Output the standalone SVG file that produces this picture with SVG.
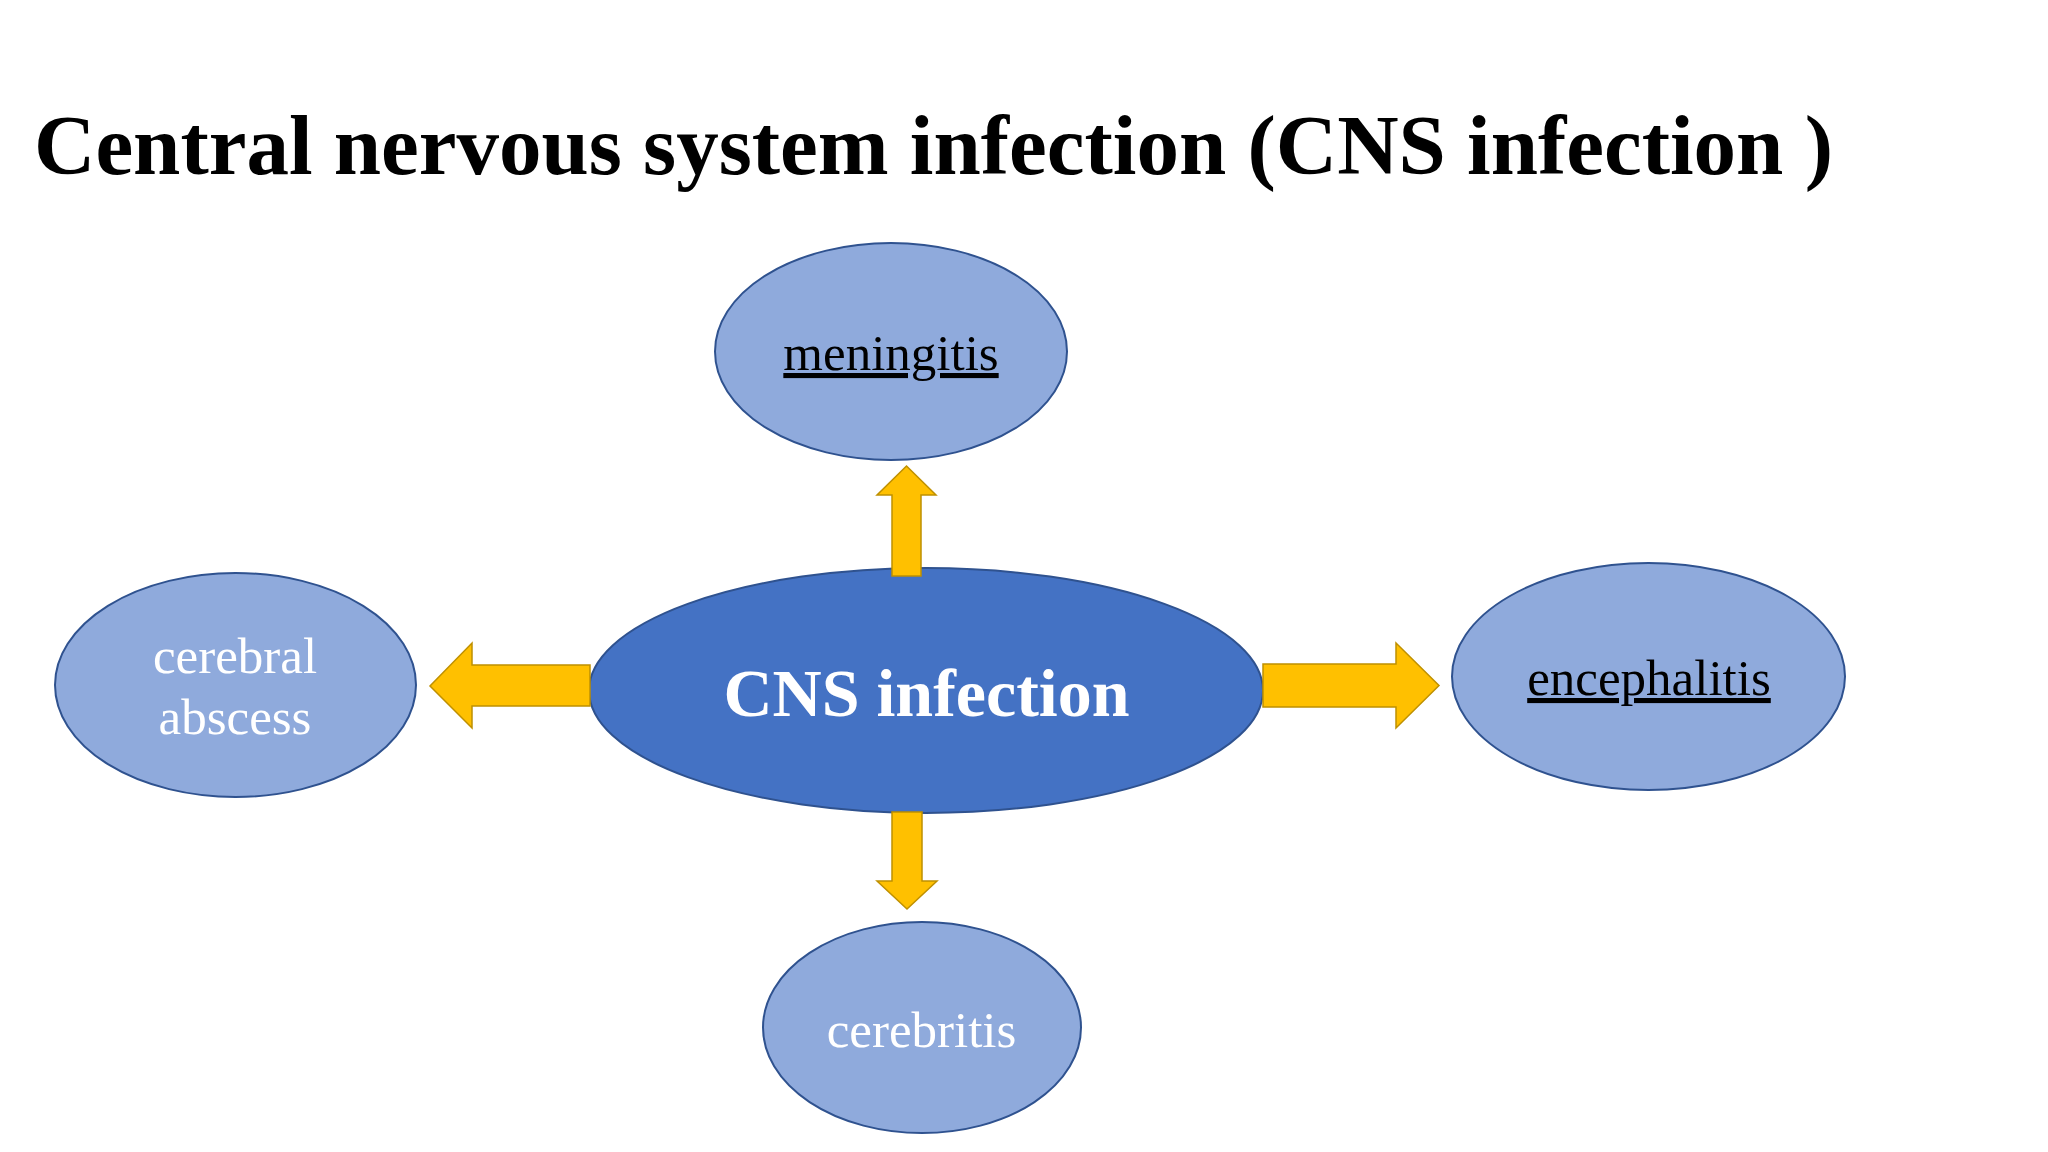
<svg xmlns="http://www.w3.org/2000/svg" width="2048" height="1152" viewBox="0 0 2048 1152">
<style>
.bg{fill:#ffffff}
.title{font-family:"Liberation Serif","Times New Roman",serif;font-weight:bold;font-size:85px;fill:#000000}
.sub{fill:#8faadc;stroke:#2f528f;stroke-width:2}
.main{fill:#4472c4;stroke:#2f528f;stroke-width:2}
.lbl{font-family:"Liberation Serif","Times New Roman",serif;font-size:51px;text-anchor:middle}
.dark{fill:#000000;text-decoration:underline}
.light{fill:#ffffff}
.mainlbl{font-family:"Liberation Serif","Times New Roman",serif;font-weight:bold;font-size:68px;fill:#ffffff;text-anchor:middle}
.arrow{fill:#ffc000;stroke:#bf9000;stroke-width:1.5;stroke-linejoin:miter}
</style>
<rect class="bg" x="0" y="0" width="2048" height="1152"/>
<text class="title" x="34" y="174">Central nervous system infection (CNS infection )</text>

<g id="node-meningitis">
<ellipse class="sub" cx="891" cy="351.5" rx="176" ry="108.5"/>
<text class="lbl dark" x="891" y="370">meningitis</text>
</g>
<g id="node-cerebral-abscess">
<ellipse class="sub" cx="235.5" cy="685" rx="180.5" ry="112"/>
<text class="lbl light" x="235" y="673">cerebral</text>
<text class="lbl light" x="235" y="734">abscess</text>
</g>
<g id="node-encephalitis">
<ellipse class="sub" cx="1648.5" cy="676.5" rx="196.5" ry="113.5"/>
<text class="lbl dark" x="1649" y="695">encephalitis</text>
</g>
<g id="node-cerebritis">
<ellipse class="sub" cx="922" cy="1027.5" rx="159" ry="105.5"/>
<text class="lbl light" x="921.5" y="1047">cerebritis</text>
</g>
<g id="node-cns-infection">
<ellipse class="main" cx="926" cy="690.5" rx="337" ry="122.5"/>
<text class="mainlbl" x="926.5" y="716">CNS infection</text>
</g>

<g id="connectors">
<polygon class="arrow" points="892,576 892,495 877,495 906.5,466 936,495 921,495 921,576"/>
<polygon class="arrow" points="590,665 472,665 472,643 430,686 472,728 472,706 590,706"/>
<polygon class="arrow" points="1263,664 1396,664 1396,643 1439,685.5 1396,728 1396,707 1263,707"/>
<polygon class="arrow" points="892,812 892,881 877,881 907,909 937,881 922,881 922,812"/>
</g>
</svg>
